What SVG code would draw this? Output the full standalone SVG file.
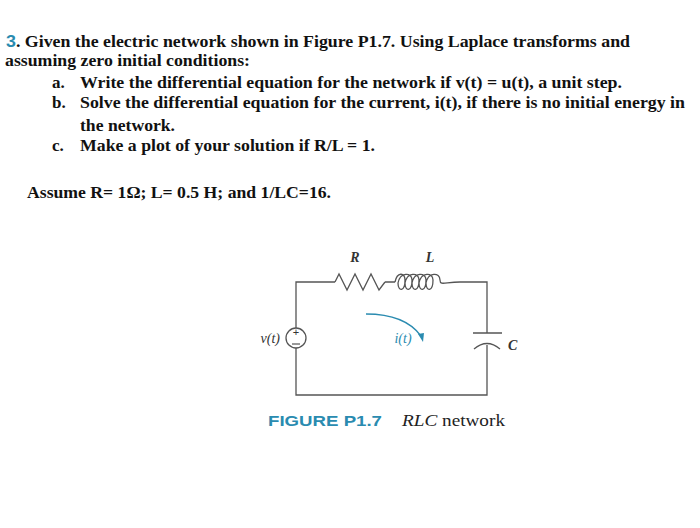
<svg xmlns="http://www.w3.org/2000/svg" width="700" height="528" viewBox="0 0 700 528">
<style>
.t{font-family:"Liberation Serif",serif;font-weight:bold;font-size:17px;fill:#111}
.w{fill:none;stroke:#555;stroke-width:1.3}
.lb{font-family:"Liberation Serif",serif;font-style:italic;font-size:14px;fill:#333}
.bl{fill:#2a8bb0}
</style>
<rect width="700" height="528" fill="#fff"/>
<g id="text">
<text class="t" x="6" y="47" textLength="624" lengthAdjust="spacingAndGlyphs"><tspan class="bl" style="font-family:'Liberation Sans',sans-serif">3</tspan>. Given the electric network shown in Figure P1.7. Using Laplace transforms and</text>
<text class="t" x="5" y="66" textLength="245" lengthAdjust="spacingAndGlyphs">assuming zero initial conditions:</text>
<text class="t" x="52" y="88">a.</text>
<text class="t" x="80" y="88" textLength="542" lengthAdjust="spacingAndGlyphs">Write the differential equation for the network if v(t) = u(t), a unit step.</text>
<text class="t" x="52" y="108">b.</text>
<text class="t" x="80" y="108" textLength="605" lengthAdjust="spacingAndGlyphs">Solve the differential equation for the current, i(t), if there is no initial energy in</text>
<text class="t" x="80" y="131" textLength="95" lengthAdjust="spacingAndGlyphs">the network.</text>
<text class="t" x="52" y="151">c.</text>
<text class="t" x="80" y="151" textLength="295" lengthAdjust="spacingAndGlyphs">Make a plot of your solution if R/L = 1.</text>
<text class="t" x="27" y="198" textLength="304" lengthAdjust="spacingAndGlyphs">Assume R= 1Ω; L= 0.5 H; and 1/LC=16.</text>
</g>
<g id="connectors">
<path class="w" d="M296 328 V282 H335 M385 282 H395 M460 282 H487 V333 M487 345 V395 H296 V348"/>
</g>
<g id="resistor"><path class="w" d="M335 282 L339 274 L347 290 L355 274 L363 290 L371 274 L379 290 L385 282"/></g>
<g id="inductor"><path class="w" d="M395 282 C397 272 405 272 405 280 C405 292 398 292 398 283 C400 272 412 272 412 280 C412 292 405 292 405 283 C407 272 419 272 419 280 C419 292 412 292 412 283 C414 272 426 272 426 280 C426 292 419 292 419 283 C421 272 433 272 433 280 C433 292 426 292 426 283 C428 272 440 272 440 280 C440 286 445 282 460 282"/></g>
<g id="source"><circle class="w" cx="296" cy="338" r="10"/><text x="296" y="336" text-anchor="middle" font-family="Liberation Sans,sans-serif" font-size="11" fill="#333">+</text><path d="M292 344 H300" stroke="#333"/></g>
<g id="capacitor"><path class="w" d="M473 333 H502 M474 349 Q487 338 500 349"/></g>
<g id="current"><path d="M366 314 Q405 314 421 336" fill="none" stroke="#2a8bb0" stroke-width="1.3"/><path d="M423 342 L418 334 L424 333 Z" fill="#2a8bb0"/></g>
<g id="labels">
<text class="lb" x="355" y="262" text-anchor="middle" font-weight="bold">R</text>
<text class="lb" x="430" y="262" text-anchor="middle" font-weight="bold">L</text>
<text class="lb" x="280" y="343" text-anchor="end">v(t)</text>
<text class="lb" x="403" y="343" text-anchor="middle" style="fill:#2a8bb0">i(t)</text>
<text class="lb" x="508" y="350" font-weight="bold">C</text>
<text x="268" y="426" font-family="Liberation Sans,sans-serif" font-weight="bold" font-size="15" fill="#2a8bb0" textLength="114" lengthAdjust="spacingAndGlyphs">FIGURE P1.7</text>
<text x="402" y="426" font-family="Liberation Serif,serif" font-size="17" fill="#222" textLength="103" lengthAdjust="spacingAndGlyphs"><tspan font-style="italic">RLC</tspan> network</text>
</g>
</svg>
